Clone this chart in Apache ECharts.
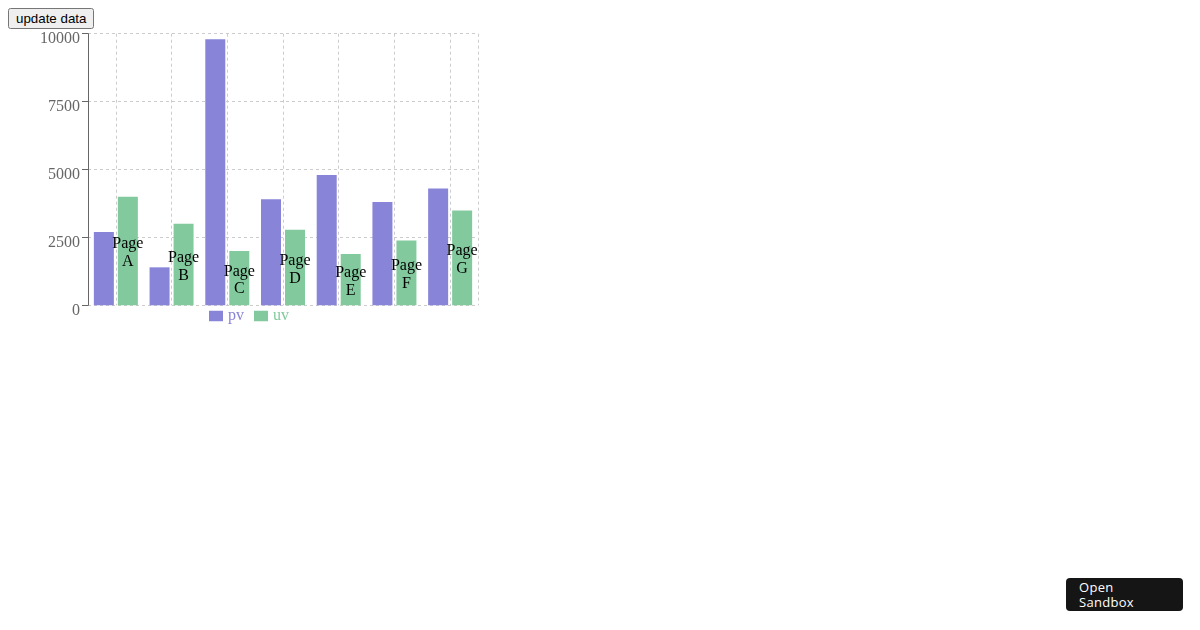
<!DOCTYPE html>
<html>
<head>
<meta charset="utf-8">
<script src="https://cdn.jsdelivr.net/npm/echarts@6/dist/echarts.min.js"></script>
<style>
  body { margin: 8px; background: #fff; }
  #btn { position: absolute; left: 8px; top: 8px; z-index: 2; }
  #chart { position: absolute; left: 0; top: 0; width: 500px; height: 340px; }
  #sandbox {
    position: absolute; left: 1066px; top: 578px; width: 104px; height: 33px;
    padding-left: 13px; background: #151515; color: #fff; border-radius: 4px;
    font: 13px "Open Sans", sans-serif; line-height: 15px; box-sizing: content-box;
  }
  #sandbox span { display: block; padding-top: 2px; letter-spacing: 0.3px; }
</style>
</head>
<body>
<button id="btn">update data</button>
<div id="chart"></div>
<div id="sandbox"><span>Open<br>Sandbox</span></div>
<script>
// data
var pages = ['Page A', 'Page B', 'Page C', 'Page D', 'Page E', 'Page F', 'Page G'];
var pv = [2700, 1398, 9800, 3908, 4800, 3800, 4300];
var uv = [4000, 3000, 2000, 2780, 1890, 2390, 3490];
var yTicks = [0, 2500, 5000, 7500, 10000];

var serif = '"Liberation Serif", "Times New Roman", serif';
var gridLine = { color: '#ccc', type: [3, 3], width: 1 };

var chart = echarts.init(document.getElementById('chart'));
chart.setOption({
  animation: false,
  grid: { left: 88, top: 33.7, width: 390, height: 271.6 },
  legend: {
    left: 209,
    top: 308,
    padding: 0,
    itemWidth: 14,
    itemHeight: 10.5,
    itemGap: 10,
    icon: 'rect',
    textStyle: { fontFamily: serif, fontSize: 16 },
    data: [
      { name: 'pv', textStyle: { color: '#8884d8' } },
      { name: 'uv', textStyle: { color: '#82ca9d' } }
    ]
  },
  xAxis: [{
    type: 'category',
    data: pages,
    axisLine: { show: false },
    axisTick: { show: false },
    axisLabel: { show: false },
    splitLine: { show: false }
  }, {
    // only used for the dashed vertical grid lines at page centres
    type: 'value',
    min: -0.5,
    max: 6.5,
    splitNumber: 7,
    axisLine: { show: false },
    axisTick: { show: false },
    axisLabel: { show: false },
    splitLine: { show: true, lineStyle: gridLine }
  }],
  yAxis: {
    type: 'value',
    min: yTicks[0],
    max: yTicks[yTicks.length - 1],
    interval: 2500,
    axisLine: { show: true, onZero: false, lineStyle: { color: '#666' } },
    axisTick: { show: true, length: 6, lineStyle: { color: '#666' } },
    axisLabel: {
      margin: 8, color: '#666', fontFamily: serif, fontSize: 16,
      verticalAlign: 'top',
      lineHeight: 11,
      formatter: function (v) { return String(v); }
    },
    splitLine: { show: true, lineStyle: gridLine }
  },
  series: [{
    name: 'pv',
    type: 'bar',
    data: pv,
    barWidth: 20,
    barGap: '20%',
    itemStyle: { color: '#8884d8' }
  }, {
    name: 'uv',
    type: 'bar',
    data: uv,
    barWidth: 20,
    barGap: '20%',
    itemStyle: { color: '#82ca9d' },
    label: {
      show: true,
      position: 'inside',
      offset: [0, 2],
      color: '#000',
      fontFamily: serif,
      fontSize: 16,
      lineHeight: 17.5,
      formatter: function (p) { return p.name.replace(' ', '\n'); }
    }
  }]
});
</script>
</body>
</html>
